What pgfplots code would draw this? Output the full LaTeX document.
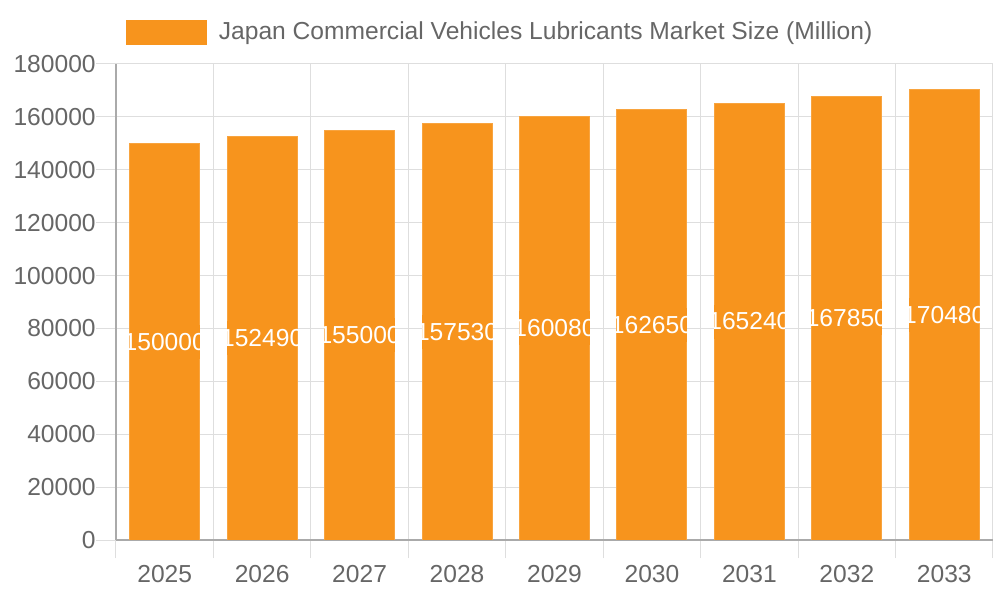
\documentclass[border=0pt]{standalone}
\usepackage{fontspec}
\setmainfont{Liberation Sans}
\usepackage{pgfplots}
\usepackage{pgfplotstable}
\pgfplotsset{compat=1.18}
\definecolor{barorange}{HTML}{F7941D}
\definecolor{gridgray}{HTML}{DEDEDE}
\definecolor{axisgray}{HTML}{AAAAAA}
\definecolor{textgray}{HTML}{666666}
\newcommand{\chartfont}{\fontsize{24.6bp}{29bp}\selectfont}

\pgfplotstableread{
year value
2025 150000
2026 152490
2027 155000
2028 157530
2029 160080
2030 162650
2031 165240
2032 167850
2033 170480
}\market

\begin{document}
\chartfont
\begin{tikzpicture}
\useasboundingbox (-116bp,-60bp) rectangle (884bp,540bp);
\begin{axis}[
  scale only axis, width=877bp, height=476bp,
  xmin=2024.5, xmax=2033.5, ymin=0, ymax=180000,
  ytick={0,20000,...,180000},
  xtick=data,
  minor xtick={2024.5,2025.5,...,2033.5},
  axis x line*=bottom, axis y line*=left,
  axis line style={axisgray, line width=1.5bp, -},
  ymajorgrids, xminorgrids,
  grid style={gridgray, line width=1bp},
  minor grid style={gridgray, line width=1bp},
  tick align=outside,
  major tick length=20bp, minor tick length=18bp,
  tick style={gridgray, line width=1bp},
  every major x tick/.append style={draw=none},
  ticklabel style={text=textgray, font=\chartfont},
  xticklabel style={yshift=3bp},
  yticklabel style={xshift=8bp},
  xticklabel={\pgfmathparse{int(\tick)}\pgfmathresult},
  yticklabel={\pgfmathparse{int(\tick)}\pgfmathresult},
  scaled y ticks=false,
  legend style={draw=none, fill=none, at={(0.438,1.067)}, anchor=center,
    text=textgray, font=\chartfont},
  legend image code/.code={\fill[barorange] (0bp,-12bp) rectangle (80bp,12bp);
    \path (90bp,0bp);},
]
\addplot[ybar, bar width=70bp, fill=barorange, draw=barorange!85!white, line width=1bp]
  table[x=year, y=value] \market;
\addlegendentry{Japan Commercial Vehicles Lubricants Market Size (Million)}

\addplot[draw=none, mark=none, forget plot, nodes near coords={},
  point meta=explicit symbolic,
  every node near coord/.style={anchor=center, minimum width=70bp,
    minimum height=34bp, inner sep=0pt, fill=barorange,
    path picture={\node[text=white, inner sep=0pt, font=\chartfont]
      at (path picture bounding box.center) {\pgfplotspointmeta};}}]
  table[x=year, y expr=\thisrow{value}/2, meta=value] \market;
\end{axis}
\end{tikzpicture}
\end{document}
